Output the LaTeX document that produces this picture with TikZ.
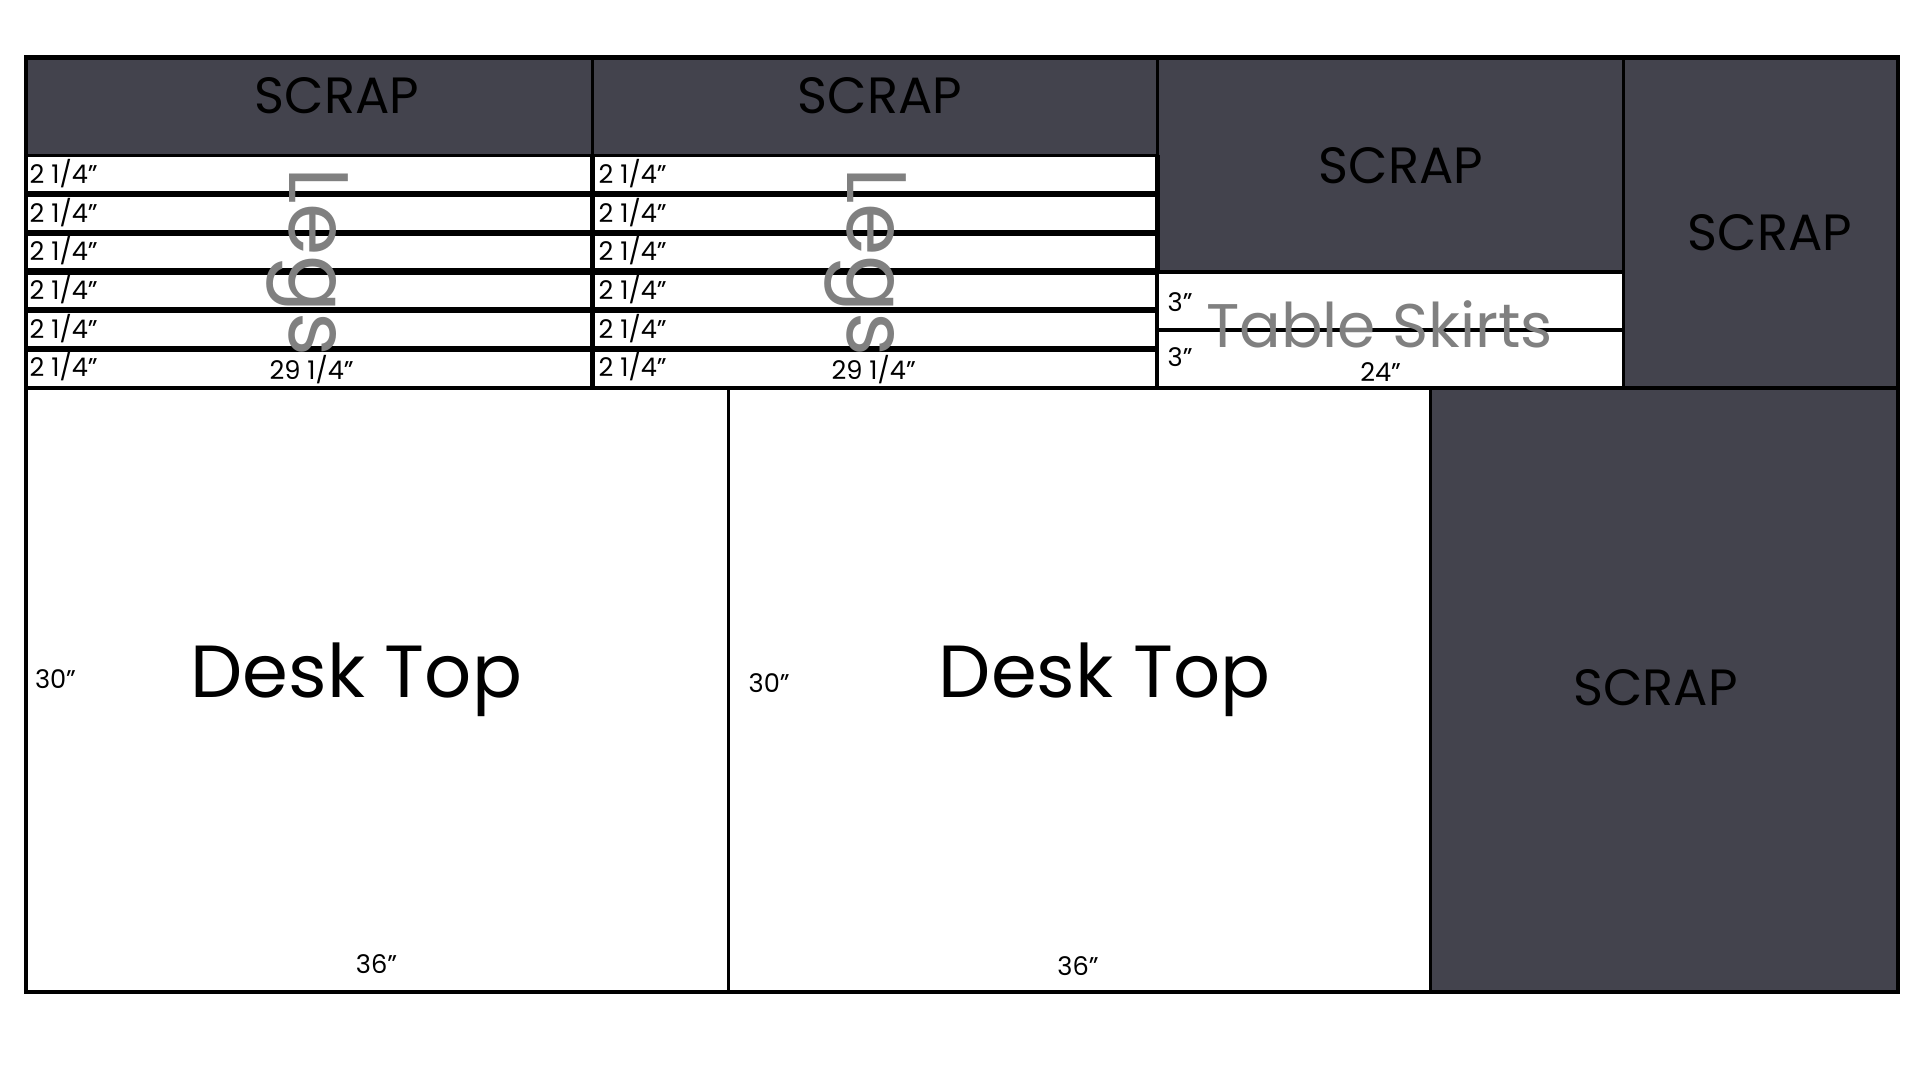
\documentclass[tikz,border=0pt]{standalone}
\usepackage{fontspec}
\setmainfont{Poppins}
\definecolor{scrapfill}{RGB}{67,67,77}
\definecolor{markgray}{RGB}{128,128,128}

\tikzset{
  scrap/.style={fill=scrapfill, draw=black, line width=0.7pt},
  piece/.style={fill=white, draw=black, line width=1pt},
  cutsep/.style={draw=black, line width=1.8pt},
  bigtext/.style={font=\fontsize{14.5}{16}\selectfont, inner sep=0pt},
  toptext/.style={font=\fontsize{21}{24}\selectfont, inner sep=0pt, anchor=base},
  dimtext/.style={font=\fontsize{7.3}{8}\selectfont, inner sep=0pt},
  marktext/.style={font=\fontsize{17.5}{20}\selectfont, text=markgray, inner sep=0pt}
}

\begin{document}
\begin{tikzpicture}[x=0.01cm, y=-0.01cm]
  \useasboundingbox (0,0) rectangle (1920,1080);

  % scrap
  \draw[scrap] (25.7,57.6) rectangle (592.7,155.5);
  \draw[scrap] (592.7,57.6) rectangle (1157.5,155.5);
  \draw[scrap] (1157.5,57.6) rectangle (1623.7,271.8);
  \draw[scrap] (1623.7,57.6) rectangle (1898,388);
  \draw[scrap] (1430.2,388) rectangle (1898,992);

  % legs
  \foreach \y [count=\i] in {155.5,194.2,232.9,271.6,310.3,349.0} {
    \draw[piece] (25.7,\y) rectangle (592.7,\y+38.7);
    \draw[piece] (592.7,\y) rectangle (1157.5,\y+38.7);
    \node[dimtext, anchor=base west] (la\i) at (29,\y+28) {2 1/4"};
    \node[dimtext, anchor=base west] (lb\i) at (598,\y+28) {2 1/4"};
  }
  \foreach \y in {194.2,232.9,271.6,310.3,349.0}
    \draw[cutsep] (25.7,\y) -- (1157.5,\y);
  \draw[line width=1.3pt] (592.7,155.5) -- (592.7,388);
  \draw[line width=1.7pt] (1157.5,155.5) -- (1157.5,388);

  % table skirts
  \draw[piece] (1157.5,271.8) rectangle (1623.7,388);
  \draw[line width=1pt] (1157.5,329.8) -- (1623.7,329.8);

  % desk tops
  \draw[piece, line width=0.8pt] (25.7,388) rectangle (728.6,992);
  \draw[piece, line width=0.8pt] (728.6,388) rectangle (1430.2,992);
  \draw[line width=1pt] (25.7,388) -- (1898,388);

  \draw[line width=1.2pt] (25.7,57.6) rectangle (1898,992);

  \node[bigtext] (s1) at (337,96) {SCRAP};
  \node[bigtext] (s2) at (879.8,96) {SCRAP};
  \node[bigtext] (s3) at (1400.8,165.3) {SCRAP};
  \node[bigtext] (s4) at (1770,232.7) {SCRAP};
  \node[bigtext] (s5) at (1655.5,687.6) {SCRAP};

  \node[marktext, font=\fontsize{24}{26}\selectfont, rotate=-90] (legs1) at (308,262) {Legs};
  \node[marktext, font=\fontsize{24}{26}\selectfont, rotate=-90] (legs2) at (866,262) {Legs};
  \node[dimtext, anchor=base] (w1) at (311.6,379.6) {29 1/4"};
  \node[dimtext, anchor=base] (w2) at (873.7,379.6) {29 1/4"};

  \node[dimtext, anchor=base west] (k1) at (1167,311.7) {3"};
  \node[dimtext, anchor=base west] (k2) at (1167,366.7) {3"};
  \node[marktext] (skirts) at (1379.5,324.5) {Table Skirts};
  \node[dimtext, anchor=base] (w3) at (1380.6,381.5) {24"};

  \node[toptext] (d1) at (356.3,698) {Desk Top};
  \node[toptext] (d2) at (1104.5,698) {Desk Top};
  \node[dimtext, anchor=base west] (h1) at (34.3,689) {30"};
  \node[dimtext, anchor=base west] (h2) at (748,693) {30"};
  \node[dimtext, anchor=base] (b1) at (376.5,973.5) {36"};
  \node[dimtext, anchor=base] (b2) at (1078,976) {36"};
\end{tikzpicture}
\end{document}
